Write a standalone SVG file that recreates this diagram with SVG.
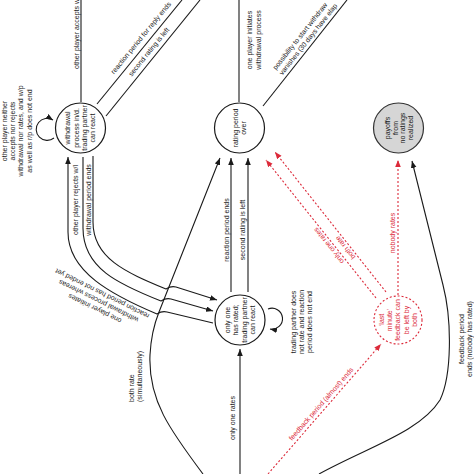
<svg xmlns="http://www.w3.org/2000/svg" width="474" height="474" viewBox="0 0 474 474">
<defs>
<marker id="ah" markerWidth="7" markerHeight="6" refX="7" refY="2.8" orient="auto" markerUnits="userSpaceOnUse"><path d="M0,0 L7,2.8 L0,5.6 z" fill="#1a1a1a"/></marker>
<marker id="ahr" markerWidth="7" markerHeight="6" refX="7" refY="2.8" orient="auto" markerUnits="userSpaceOnUse"><path d="M0,0 L7,2.8 L0,5.6 z" fill="#dc2a3a"/></marker>
<style>
.t{font-family:"Liberation Sans",Arial,sans-serif;font-size:7px;fill:#1a1a1a}
.m{text-anchor:middle}
.r{fill:#dc2a3a}
.e{fill:none;stroke:#1a1a1a;stroke-width:1.1}
.rd{fill:none;stroke:#dc2a3a;stroke-width:1.1;stroke-dasharray:2 2}
.n{fill:#fff;stroke:#1a1a1a;stroke-width:1.2}
.g{fill:#d6d6d6;stroke:#333;stroke-width:1.2}
.nr{fill:#fff;stroke:#dc2a3a;stroke-width:1.1;stroke-dasharray:2 2}
</style>
</defs>
<rect width="474" height="474" fill="#fff"/>

<g id="connectors">
<path class="e" d="M81,102 V0"/>
<path class="e" d="M97,104 L182,0"/>
<path class="e" d="M106,116 L200,0"/>
<path class="e" d="M239,102 V0"/>
<path class="e" d="M263,106 L347,0"/>
<path class="e" d="M54,138 A11 11 0 1 1 53,120" marker-end="url(#ah)"/>
<path class="e" d="M93,156 L93,222 C93,258 125,272 166,289 C169,287 172,286 176,287 L217,300" marker-end="url(#ah)"/>
<path class="e" d="M83,157 L83,228 C83,268 118,284 161,301 C164,299 167,298 171,299 L213,311" marker-end="url(#ah)"/>
<path class="e" d="M213,323 L167,312 C163,311 160,312 157,314 C112,295 68,272 68,232 L68,157" marker-end="url(#ah)"/>
<path class="e" d="M203,474 C170,430 148,400 150,355 C151,335 155,322 159,312 L220,158" marker-end="url(#ah)"/>
<path class="e" d="M240,474 V349" marker-end="url(#ah)"/>
<path class="e" d="M231,292 V158" marker-end="url(#ah)"/>
<path class="e" d="M248,292 V158" marker-end="url(#ah)"/>
<path class="e" d="M268,309 A10.5 10.5 0 1 1 270,329" marker-end="url(#ah)"/>
<path class="e" d="M319,474 C368,447 420,432 440,400 C452,375 452,320 443,285 L412,161" marker-end="url(#ah)"/>
<path class="rd" d="M376,298 L266,160" marker-end="url(#ahr)"/>
<path class="rd" d="M386,292 L275,152" marker-end="url(#ahr)"/>
<path class="rd" d="M398,295 V160" marker-end="url(#ahr)"/>
<path class="rd" d="M268,474 L381,344" marker-end="url(#ahr)"/>
</g>

<g id="labels">
<text class="t" transform="translate(77,69) rotate(-90)" y="2.4">other player accepts w</text>
<text class="t m" transform="translate(142.7,39.4) rotate(-50.7)">reaction period for reply ends</text>
<text class="t m" transform="translate(150.7,53.3) rotate(-51)">second rating is left</text>
<text class="t m" transform="translate(254,40) rotate(-90)"><tspan x="0" y="-1.7">one player initiates</tspan><tspan x="0" y="6.5">withdrawal process</tspan></text>
<text class="t" transform="translate(285.4,77.8) rotate(-51.6)"><tspan x="0" y="-12">possibility to start withdraw</tspan><tspan x="0" y="-3.7">vanishes (30 days have elap</tspan></text>
<text class="t m" transform="translate(16.7,131) rotate(-90)"><tspan x="0" y="-10.2">other player neither</tspan><tspan x="0" y="-1.8">accepts nor rejects</tspan><tspan x="0" y="6.6">withdrawal nor rates, and w/p</tspan><tspan x="0" y="15">as well as r/p does not end</tspan></text>
<text class="t m" transform="translate(76,200) rotate(-90)" y="2.4">other player rejects w/l</text>
<text class="t m" transform="translate(88.3,200) rotate(-90)" y="2.4">withdrawal period ends</text>
<text class="t m" transform="translate(98.5,301) rotate(-153.7)"><tspan x="0" y="-5.9">one player initiates</tspan><tspan x="0" y="2.4">withdrawal process whereas</tspan><tspan x="0" y="10.7">reaction period has not ended yet</tspan></text>
<text class="t m" transform="translate(227,230) rotate(-90)" y="2.4">reaction period ends</text>
<text class="t m" transform="translate(243,230) rotate(-90)" y="2.4">second rating is left</text>
<text class="t m" transform="translate(302,322) rotate(-90)"><tspan x="0" y="-5.6">trading partner does</tspan><tspan x="0" y="2.4">not rate and reaction</tspan><tspan x="0" y="10.4">period does not end</tspan></text>
<text class="t" transform="translate(136,402) rotate(-90)"><tspan x="0" y="-1.6">both rate</tspan><tspan x="0" y="6.4">(simultaneously)</tspan></text>
<text class="t m" transform="translate(233,418) rotate(-90)" y="2.4">only one rates</text>
<text class="t m" transform="translate(466,339) rotate(-90)"><tspan x="0" y="-1.6">feedback period</tspan><tspan x="0" y="6.4">ends (nobody has rated)</tspan></text>
<text class="t m r" transform="translate(392.5,233) rotate(-90)" y="2.4">nobody rates</text>
<text class="t m r" transform="translate(332.2,243) rotate(-128.6)" y="-2">only one rates</text>
<text class="t m r" transform="translate(348.7,245) rotate(-128.4)" y="-2">both rate</text>
<text class="t m r" transform="translate(322.9,405.5) rotate(-49)">feedback period (almost) ends</text>
</g>

<g id="node-withdrawal">
<circle class="n" cx="80.5" cy="128" r="25"/>
<text class="t m" transform="translate(80.5,128) rotate(-90)"><tspan x="0" y="-10.05">withdrawal</tspan><tspan x="0" y="-1.75">process in/d.</tspan><tspan x="0" y="6.55">trading partner</tspan><tspan x="0" y="14.85">can react</tspan></text>
</g>
<g id="node-rating-over">
<circle class="n" cx="239.5" cy="128" r="25"/>
<text class="t m" transform="translate(239.5,128) rotate(-90)"><tspan x="0" y="-1.85">rating period</tspan><tspan x="0" y="6.65">over</tspan></text>
</g>
<g id="node-payoffs">
<circle class="g" cx="398.5" cy="128" r="25"/>
<text class="t m" transform="translate(399,128) rotate(-90)"><tspan x="0" y="-9.3">payoffs</tspan><tspan x="0" y="-1.5">from</tspan><tspan x="0" y="6.3">no ratings</tspan><tspan x="0" y="14.1">realized</tspan></text>
</g>
<g id="node-only-one">
<circle class="n" cx="240" cy="320" r="25"/>
<text class="t m" transform="translate(240,320) rotate(-90)"><tspan x="0" y="-10.05">only one</tspan><tspan x="0" y="-1.75">has rated;</tspan><tspan x="0" y="6.55">trading partner</tspan><tspan x="0" y="14.85">can react</tspan></text>
</g>
<g id="node-last-minute">
<circle class="nr" cx="398" cy="320" r="24"/>
<text class="t m r" transform="translate(398,320) rotate(-90)"><tspan x="0" y="-14.2">‘last</tspan><tspan x="0" y="-5.9">minute’</tspan><tspan x="0" y="2.4">feedback can</tspan><tspan x="0" y="10.7">be left by</tspan><tspan x="0" y="19">both</tspan></text>
</g>
</svg>
